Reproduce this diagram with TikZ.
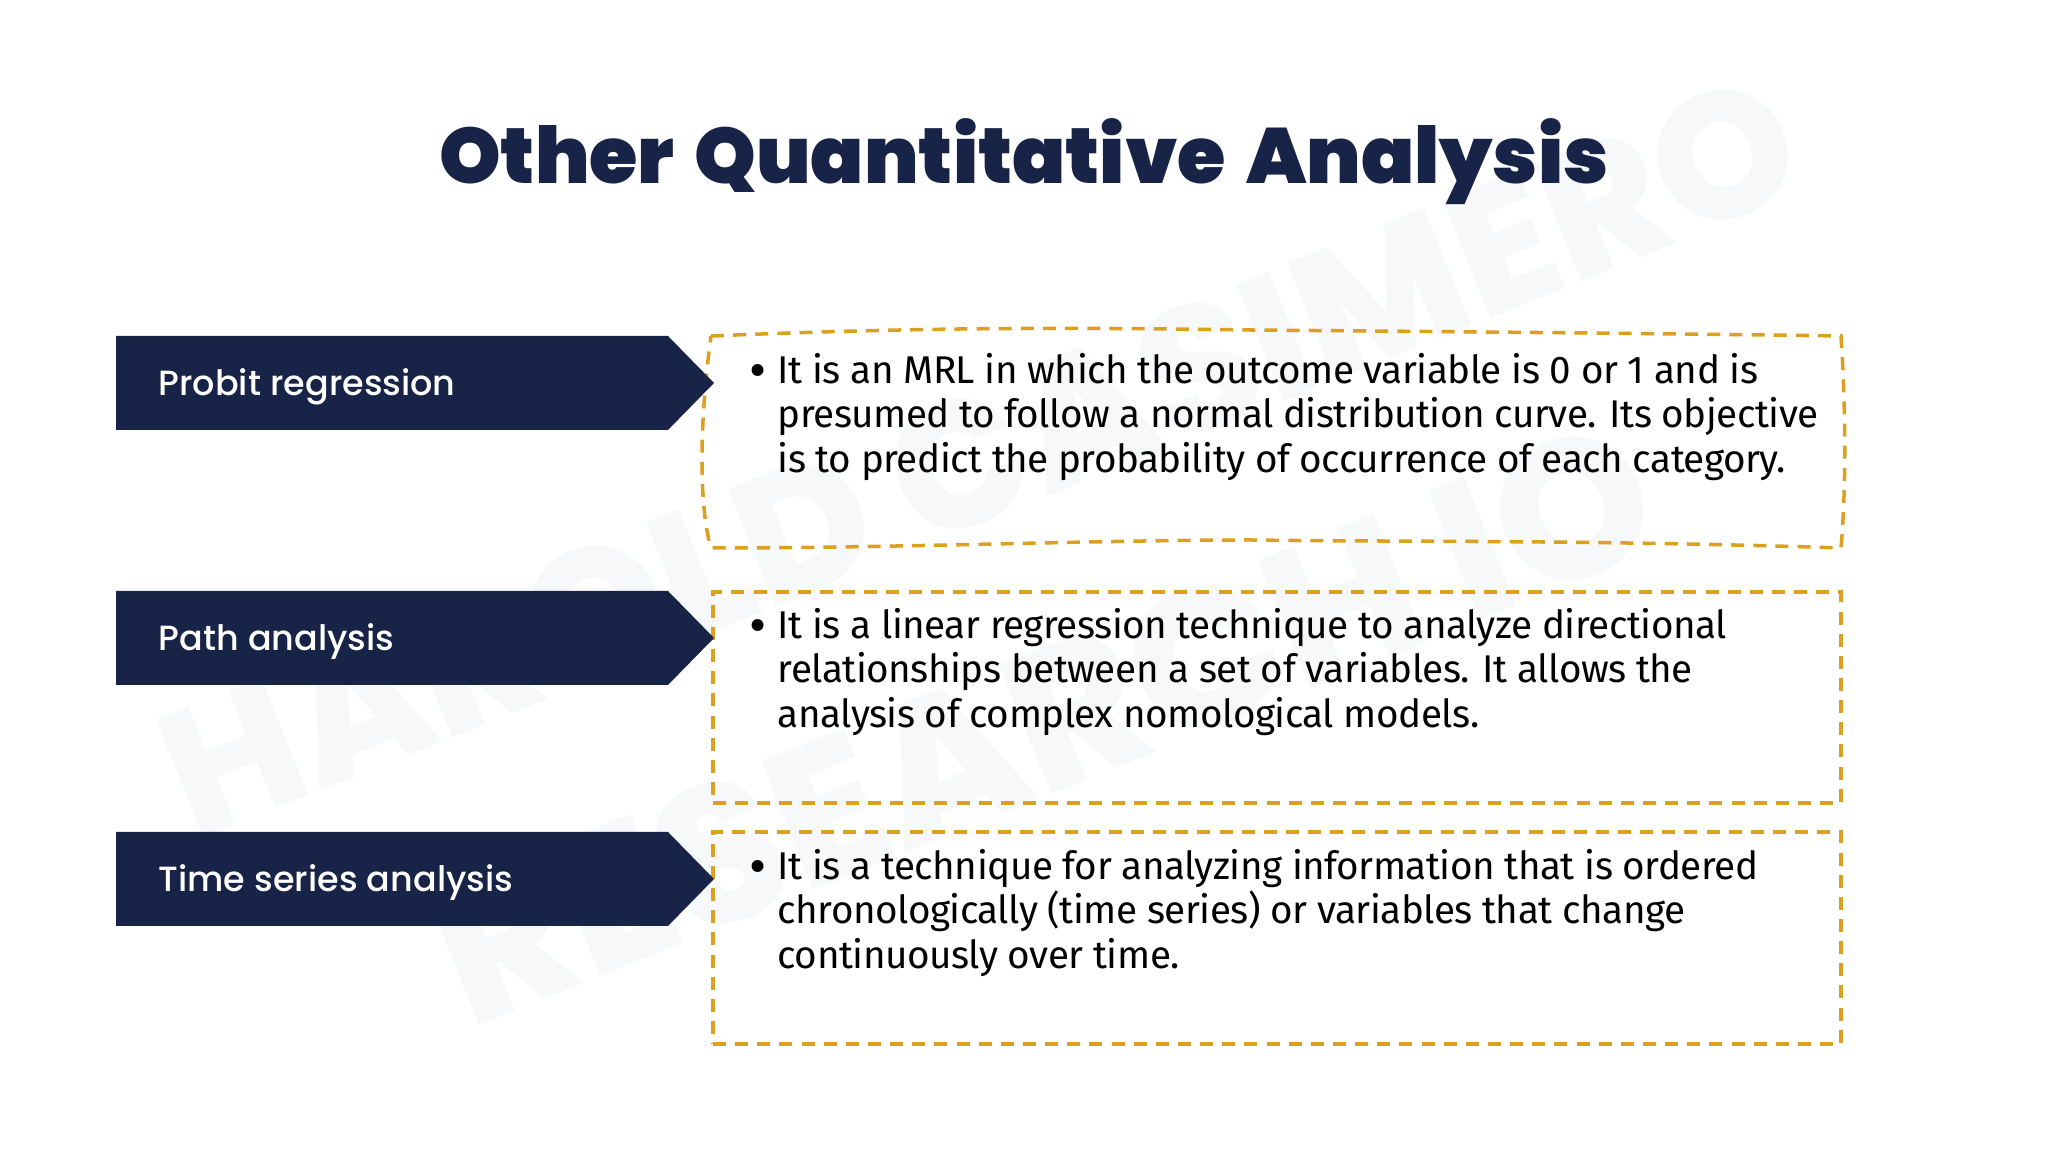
\documentclass[tikz,border=0pt]{standalone}
\usepackage{fontspec}
\setmainfont{Fira Sans}[LetterSpace=-1.3]
\newfontfamily\headfont{Poppins Black}[WordSpace=1.5]
\newfontfamily\bandfont{Poppins Medium}
\newfontfamily\markfont{Poppins ExtraBold}
\usetikzlibrary{positioning}
\definecolor{navyband}{HTML}{172347}
\definecolor{dashgold}{HTML}{DC9F1E}
\definecolor{markpale}{HTML}{F6F8FA}
\newcommand{\listdot}{\llap{\raisebox{-0.25ex}{\fontsize{15}{15}\selectfont\textbullet}\hspace{0.55ex}}}
\tikzset{
    bandlabel/.style={text=white, anchor=base west, inner sep=0pt, font=\bandfont\fontsize{9.95}{12}\selectfont},
    dashbox/.style={draw=dashgold, line width=1pt, dash pattern=on 3.7pt off 2.6pt},
    bodytext/.style={anchor=north west, inner sep=0pt, align=left, text=black, font=\fontsize{11}{12.66}\selectfont},
    marktext/.style={text=markpale, rotate=22},
}
\begin{document}
\begin{tikzpicture}
    \useasboundingbox (0,0) rectangle (20.48,11.52);

    % faint mark behind everything
    \node[marktext, font=\markfont\fontsize{51}{51}\selectfont] (markone) at (9.80,6.96) {HAROLD CASIMERO};
    \node[marktext, font=\markfont\fontsize{56}{56}\selectfont] (marktwo) at (10.44,4.30) {RESEARCH IO};

    \node[inner sep=0pt, text=navyband, font=\headfont\fontsize{22.3}{24}\selectfont] (title) at (10.24,9.9) {Other Quantitative Analysis};

    % first box is not quite straight
    \draw[dashbox] (7.11,8.16) .. controls (9.5,8.26) and (11,8.24) .. (12.5,8.22) .. controls (15,8.2) and (17,8.18) .. (18.41,8.16)
        .. controls (18.46,7.4) and (18.46,6.6) .. (18.41,6.04)
        .. controls (16,6.12) and (14,6.1) .. (12.5,6.12) .. controls (11,6.12) and (9,6.04) .. (7.11,6.04)
        .. controls (7.0,6.4) and (6.98,7.2) .. cycle;
    \node[dashbox, minimum width=11.28cm, minimum height=2.11cm, inner sep=0pt] (boxpath) at (12.77,4.545) {};
    \node[dashbox, minimum width=11.28cm, minimum height=2.12cm, inner sep=0pt] (boxtime) at (12.77,2.14) {};

    % bands
    \foreach \nm/\ytop/\txt in {probit/8.16/Probit regression, path/5.61/Path analysis, time/3.20/Time series analysis}
    {
        \fill[navyband] (1.16,\ytop) -- (6.68,\ytop) -- (7.14,\ytop-0.47) -- (6.68,\ytop-0.94) -- (1.16,\ytop-0.94) -- cycle;
        \node[bandlabel] (\nm) at (1.58,\ytop-0.6) {\txt};
    }

    \node[bodytext] (textprobit) at (7.77,7.995) {\listdot It is an MRL in which the outcome variable is 0 or 1 and is\\presumed to follow a normal distribution curve. Its objective\\is to predict the probability of occurrence of each category.};
    \node[bodytext] (textpath) at (7.77,5.445) {\listdot It is a linear regression technique to analyze directional\\relationships between a set of variables. It allows the\\analysis of complex nomological models.};
    \node[bodytext] (texttime) at (7.77,3.035) {\listdot It is a technique for analyzing information that is ordered\\chronologically (time series) or variables that change\\continuously over time.};
\end{tikzpicture}
\end{document}
